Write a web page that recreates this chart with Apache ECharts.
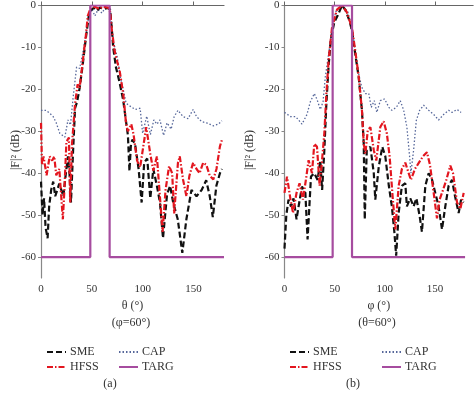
<!DOCTYPE html>
<html>
<head>
<meta charset="utf-8">
<script src="https://cdn.jsdelivr.net/npm/echarts@6/dist/echarts.min.js"></script>
<style>
  html, body { margin: 0; padding: 0; background: #fff; }
  #chart { width: 474px; height: 408px; }
</style>
</head>
<body>
<div id="chart"></div>
<script>
// tick positions
const xTicks = [0, 50, 100, 150]
const yTicks = [-60, -50, -40, -30, -20, -10, 0]

// (a) phi = 60 deg, cut in theta : [theta, dB]
const smeA = [[0,-42],[1.5,-50],[3,-46],[4.5,-53],[6.5,-55.5],[8,-48],[10,-44],[12,-42],[14,-45.5],[16,-44],[18,-42.5],[20,-44],[22,-45.5],[24,-41],[26.5,-36],[28,-40],[29.5,-47],[31.5,-35],[33.5,-24.5],[35.5,-23],[38,-19.7],[41,-14.2],[44,-8],[47,-2.5],[49.5,-1],[52,-0.6],[55,-1.2],[58,-0.5],[62,-0.8],[66,-0.6],[68,-1],[69.5,-5.2],[71,-10],[73.7,-14.7],[77.5,-18.6],[80.8,-22.5],[83,-26.5],[85.5,-31],[87,-39.5],[88.5,-33],[90,-32],[92.5,-33],[96,-39],[99,-47],[101.5,-37.5],[104.5,-36.5],[107.5,-46],[110.5,-39],[114,-43],[117,-47],[120,-55.5],[124,-45],[127,-43],[130,-47],[134.5,-51],[139,-59],[143,-51],[148,-44],[153,-45.5],[158,-44],[162.5,-41.7],[166,-45.5],[169,-50.5],[172.5,-43],[176,-40],[178,-39]]
const hfssA = [[0,-28],[1,-38],[2.5,-36],[5.5,-40.5],[8.5,-36],[11,-37],[13,-36],[15,-40.5],[18,-39],[21.5,-51],[23,-44],[25,-32.5],[27.5,-31.5],[28.7,-47],[30.5,-33],[33.5,-23.5],[36,-18.8],[38,-19.7],[41,-13.4],[44,-7.5],[46,-2.5],[49,-0.5],[53,-0.3],[57,-0.8],[61,-0.3],[66,-0.5],[68,-1.5],[69.5,-5.5],[72.5,-11],[77.5,-15.8],[81,-21.3],[83.7,-28.3],[85.5,-30],[88.8,-28.3],[91,-30.7],[94.5,-37],[97.5,-38.6],[101,-33],[103.5,-29],[107.5,-35.4],[110.5,-39.4],[114,-36],[117,-45.7],[119.6,-54],[122.5,-44],[126,-38.3],[129,-40],[131,-49.6],[134.7,-37.5],[136.5,-36],[139.7,-41.5],[143,-45.5],[146,-40.6],[149.6,-37.5],[153,-39],[156,-40],[159.5,-37.5],[162.6,-38],[166,-40.6],[169.5,-41.5],[172.6,-39],[176,-33.6],[178,-32]]
const capA = [[0,-25],[5,-25],[9,-25.8],[12,-26.5],[15,-28],[18.5,-30.5],[23.5,-31.4],[26.5,-27.3],[29,-28.5],[31.7,-21.7],[35,-14.7],[38,-15],[41,-11.5],[45,-5.6],[47.5,-2],[50,-0.8],[53,-2.5],[56,-1],[60,-1.8],[63,-0.6],[67,-0.8],[69,-3],[71,-8.4],[75,-12.3],[78,-17],[81,-20.2],[83.7,-23.3],[87.6,-24],[92.6,-24.8],[97.5,-24.5],[100,-30.5],[104,-26.4],[107.6,-30.8],[111,-27.3],[114,-28.3],[117,-27.3],[120.6,-31],[124,-28],[128,-29.5],[131,-26.5],[134.7,-25],[139.7,-26.5],[144.6,-27],[149.6,-24.8],[153,-26.5],[158,-27.7],[163,-28],[169.5,-28.7],[174.5,-28.3],[178,-27.5]]
const targA = [[0,-60],[48.5,-60],[48.5,0],[67.5,0],[67.5,-60],[180,-60]]

// (b) theta = 60 deg, cut in phi : [phi, dB]
const smeB = [[0,-58],[1.8,-50],[4,-46.3],[6.5,-48],[9,-46],[12,-51],[14,-48],[17.4,-43.2],[20.8,-44.7],[23,-55.8],[26.4,-40.8],[29.7,-40],[33,-41.6],[35.7,-37],[37.5,-44],[39.7,-34.6],[41.7,-23.6],[44,-14.2],[46.3,-7.9],[49.6,-4],[53,-2.4],[57.3,0],[60.6,-1],[65,-3.8],[67.3,-6.1],[70.6,-11.7],[74,-17.2],[77.2,-25],[79,-33],[80,-51],[82,-34.5],[85.6,-33.7],[89,-40],[90.5,-46.3],[94,-38.4],[97.5,-33.7],[100.5,-36],[104,-43],[107,-47.9],[109.5,-54],[111.3,-59.7],[113.8,-49.5],[117,-43],[120.4,-42.4],[122,-47.9],[125.4,-46],[128.7,-47.9],[131.5,-46],[134.7,-50.2],[137,-54],[140.4,-43],[143.7,-40],[147,-41.5],[150.3,-44.7],[153.6,-47.9],[157,-53.4],[160.3,-47.9],[163.6,-43],[167,-41.6],[170,-45.5],[173.6,-49.5],[176,-46.3],[178.5,-47]]
const hfssB = [[0,-44.7],[2.5,-40.8],[6,-46.3],[8.5,-49.5],[12,-44.7],[15,-42.4],[18.4,-46.3],[21.8,-40.8],[24,-36.9],[27.4,-40],[29.7,-33],[32.4,-33.7],[35,-43],[37.4,-37],[39.7,-30.5],[41.7,-21.2],[44,-13],[47.3,-5.4],[52.3,-1],[57.3,0],[62,-1.5],[67.3,-5.4],[70.6,-10.9],[74,-17],[77.2,-25],[79,-33],[80.6,-35.3],[83,-29.8],[85.6,-29],[89,-34.5],[91.5,-37],[95.5,-29],[98.8,-27.6],[102,-30.5],[104.8,-36],[108,-46.3],[110.5,-53.4],[113.8,-43],[117,-39],[120.4,-37.5],[123.8,-40],[126,-41.6],[130,-39],[134,-37.5],[138,-36],[142,-35],[145,-38],[148.7,-44.7],[152,-50.8],[154.6,-46.3],[158,-44],[161.3,-41.6],[165.3,-38.2],[168,-40],[172,-47],[175.3,-48.5],[178.6,-44.7]]
const capB = [[0,-25.5],[6,-26.5],[11,-26.5],[14,-27.3],[17.4,-28.3],[22.4,-26],[25.7,-23],[29.7,-21],[32.4,-22.4],[35.7,-24.8],[38.4,-23],[40.7,-17],[44,-11.5],[47.5,-5.5],[51,-1.5],[57.3,0],[63,-1.5],[67,-5],[70.6,-11],[74,-16.4],[77,-19.5],[80.6,-21],[84,-21],[86.5,-24.3],[89.5,-22.7],[92,-25.5],[95.5,-22.7],[99.8,-22.3],[104,-24.3],[107,-25],[111.5,-24.3],[115.4,-22.7],[118.8,-25],[122,-29],[124.7,-36],[126,-40],[128.7,-34.5],[131.4,-27.4],[134.7,-25],[138.7,-23.8],[143.7,-25],[148.7,-26],[153.6,-27.3],[158.6,-26],[163.6,-25],[167,-25.5],[172,-24.8],[176,-25.5]]
const targB = [[0,-60],[48,-60],[48,0],[67.3,0],[67.3,-60],[180,-60]]

const font = 'Liberation Serif'
const txt = '#333'

const styles = {
  SME: { color: '#111', width: 2.2, type: [6, 3] },
  HFSS: { color: '#e3161f', width: 2.2, type: [6, 2, 1.5, 2] },
  CAP: { color: '#56679a', width: 1.3, type: [1.5, 2] },
  TARG: { color: '#a64c9f', width: 2.2, type: 'solid' }
}

function xAxisOf (idx, max, name) {
  return {
    type: 'value', gridIndex: idx, min: 0, max: max,
    name: name, nameLocation: 'middle', nameGap: 21,
    nameTextStyle: { fontFamily: font, fontSize: 12, color: txt },
    axisLine: { lineStyle: { color: '#666', width: 1.2 } },
    axisTick: { inside: true, length: 4, customValues: xTicks, lineStyle: { color: '#666' } },
    axisLabel: { customValues: xTicks, fontFamily: font, fontSize: 11, color: txt, margin: 6 },
    splitLine: { show: false }
  }
}
function yAxisOf (idx) {
  return {
    type: 'value', gridIndex: idx, min: -65, max: 0,
    axisLine: { show: true, lineStyle: { color: '#888', width: 1.2 } },
    axisTick: { show: true, length: 3, customValues: yTicks, lineStyle: { color: '#888' } },
    axisLabel: { customValues: yTicks, fontFamily: font, fontSize: 11, color: txt, margin: 5 },
    splitLine: { show: false }
  }
}
function lineOf (name, idx, data) {
  return {
    name: name, type: 'line', xAxisIndex: idx, yAxisIndex: idx,
    data: data, showSymbol: false, symbol: 'none', animation: false,
    lineStyle: styles[name], itemStyle: { color: styles[name].color }
  }
}
function legendOf (left, names) {
  return {
    orient: 'vertical', left: left, top: 341, itemWidth: 19, itemHeight: 12, itemGap: 3,
    itemStyle: { opacity: 0 },
    textStyle: { fontFamily: font, fontSize: 12, color: txt, padding: [0, 0, 0, -1] },
    data: names
  }
}
function label (x, y, text, size) {
  return { type: 'text', x: x, y: y, style: { text: text, fontFamily: font, fontSize: size || 12, fill: txt, textAlign: 'center', textVerticalAlign: 'middle' } }
}

const myChart = echarts.init(document.getElementById('chart'))
myChart.setOption({
  animation: false,
  backgroundColor: '#fff',
  grid: [
    { left: 41, top: 4, width: 183, height: 274 },
    { left: 284.5, top: 4, width: 188.6, height: 274 }
  ],
  xAxis: [xAxisOf(0, 180, 'θ (°)'), xAxisOf(1, 188, 'φ (°)')],
  yAxis: [yAxisOf(0), yAxisOf(1)],
  legend: [
    legendOf(41, ['SME', 'HFSS']),
    legendOf(113, ['CAP', 'TARG']),
    legendOf(284, ['SME', 'HFSS']),
    legendOf(376, ['CAP', 'TARG'])
  ],
  graphic: [
    Object.assign(label(16, 150, '|F|² (dB)'), { rotation: Math.PI / 2 }),
    Object.assign(label(250, 150, '|F|² (dB)'), { rotation: Math.PI / 2 }),
    label(131, 323, '(φ=60°)'),
    label(377, 323, '(θ=60°)'),
    label(110, 384, '(a)'),
    label(353, 384, '(b)')
  ],
  series: [
    lineOf('CAP', 0, capA),
    lineOf('SME', 0, smeA),
    lineOf('HFSS', 0, hfssA),
    lineOf('TARG', 0, targA),
    lineOf('CAP', 1, capB),
    lineOf('SME', 1, smeB),
    lineOf('HFSS', 1, hfssB),
    lineOf('TARG', 1, targB)
  ]
})
</script>
</body>
</html>
